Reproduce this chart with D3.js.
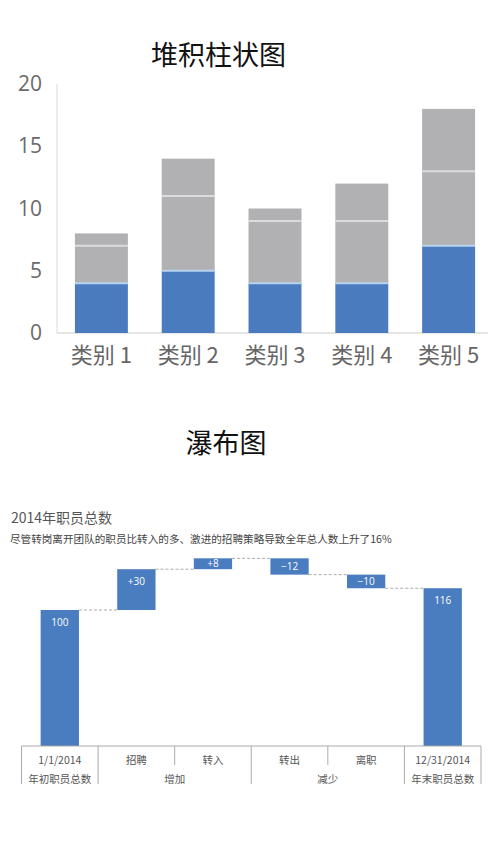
<!DOCTYPE html>
<html><head><meta charset="utf-8">
<script src="https://cdn.jsdelivr.net/npm/d3@7/dist/d3.min.js"></script>
<style>body{margin:0;background:#fff}svg{display:block}</style>
</head><body>
<svg id="c" width="489" height="868"></svg>
<script>
// ---- Stacked column data ----
const categories = ["类别 1","类别 2","类别 3","类别 4","类别 5"];
const series1 = [4,5,4,4,7];
const series2 = [3,6,5,5,6];
const series3 = [1,3,1,3,5];
const yTicks = [0,5,10,15,20];

// ---- Waterfall data ----
const wfLabels = ["1/1/2014","招聘","转入","转出","离职","12/31/2014"];
const wfValues = [100,30,8,-12,-10,116];
const wfTypes = ["total","delta","delta","delta","delta","total"];
const wfGroups = [["年初职员总数",0,1],["增加",1,3],["减少",3,5],["年末职员总数",5,6]];

const svg = d3.select("#c");
const CJK = "'Noto Sans CJK SC','Noto Sans',sans-serif";
const blue = "#4a7bbf";
const gray = "#b1b0b3";

// ===== Chart 1 =====
svg.append("text").attr("x",218.5).attr("y",65).attr("text-anchor","middle")
  .attr("font-family",CJK).attr("font-size",27).attr("fill","#111").text("堆积柱状图");

const x1 = d3.scaleBand().domain(categories).range([58,492]).paddingInner(0.39).paddingOuter(0.195);
const y1 = d3.scaleLinear().domain([0,20]).range([333,84]);
const g1 = svg.append("g");
g1.append("line").attr("x1",57).attr("x2",57).attr("y1",y1(20)).attr("y2",y1(0)).attr("stroke","#e0e0e0").attr("stroke-width",1.2);
g1.append("line").attr("x1",57).attr("x2",488).attr("y1",y1(0)).attr("y2",y1(0)).attr("stroke","#dcdcdc").attr("stroke-width",1.5);
g1.selectAll(".yt").data(yTicks).join("text").attr("x",42).attr("y",d=>y1(d)+7).attr("text-anchor","end")
  .attr("font-family","'Open Sans','Noto Sans',sans-serif").attr("font-size",21).attr("fill","#6a6a6a").text(d=>d);

const stackData = categories.map((c,i)=>({c, a:series1[i], b:series2[i], d:series3[i]}));
const stacked = d3.stack().keys(["a","b","d"])(stackData);
const colors = [blue, gray, gray];
const sepColors = ["#b9d3ee","#dcdcde","#dcdcde"];
stacked.forEach((layer,li)=>{
  g1.selectAll(".s"+li).data(layer).join("rect")
    .attr("x",d=>x1(d.data.c)).attr("width",x1.bandwidth())
    .attr("y",d=>y1(d[1])).attr("height",d=>y1(d[0])-y1(d[1])).attr("fill",colors[li]);
});
stacked.slice(0,2).forEach((layer,li)=>{
  g1.selectAll(".l"+li).data(layer).join("line")
    .attr("x1",d=>x1(d.data.c)).attr("x2",d=>x1(d.data.c)+x1.bandwidth())
    .attr("y1",d=>y1(d[1])).attr("y2",d=>y1(d[1])).attr("stroke",sepColors[li]).attr("stroke-width",2);
});
g1.selectAll(".xl").data(categories).join("text").attr("x",d=>x1(d)+x1.bandwidth()/2).attr("y",363)
  .attr("text-anchor","middle").attr("font-family",CJK).attr("font-size",22).attr("fill","#666").text(d=>d);

// ===== Chart 2 =====
svg.append("text").attr("x",226).attr("y",453).attr("text-anchor","middle")
  .attr("font-family",CJK).attr("font-size",27).attr("fill","#111").text("瀑布图");

svg.append("text").attr("x",11).attr("y",523).attr("font-family",CJK).attr("font-size",14).attr("fill","#555").text("2014年职员总数");
svg.append("text").attr("x",10).attr("y",543).attr("font-family",CJK).attr("font-size",10.6).attr("fill","#444")
  .text("尽管转岗离开团队的职员比转入的多、激进的招聘策略导致全年总人数上升了16%");

const x2 = d3.scaleBand().domain(wfLabels).range([21.5,481]).paddingInner(0.5).paddingOuter(0.25);
const y2 = d3.scaleLinear().domain([0,100]).range([746,610]);
let run = 0;
const wf = wfLabels.map((l,i)=>{
  let lo,hi;
  if(wfTypes[i]==="total"){ lo=0; hi=wfValues[i]; run=wfValues[i]; }
  else { const s=run; run+=wfValues[i]; lo=Math.min(s,run); hi=Math.max(s,run); }
  return {l, v:wfValues[i], t:wfTypes[i], lo, hi, end:run};
});
const g2 = svg.append("g");
// connectors
g2.selectAll(".cn").data(wf.slice(0,-1)).join("line")
  .attr("x1",d=>x2(d.l)+x2.bandwidth()).attr("x2",(d,i)=>x2(wf[i+1].l))
  .attr("y1",d=>y2(d.end)).attr("y2",d=>y2(d.end))
  .attr("stroke","#aaa").attr("stroke-width",1).attr("stroke-dasharray","3,2");
g2.selectAll(".wb").data(wf).join("rect")
  .attr("x",d=>x2(d.l)).attr("width",x2.bandwidth())
  .attr("y",d=>y2(d.hi)).attr("height",d=>y2(d.lo)-y2(d.hi)).attr("fill","#4a7cc0");
g2.selectAll(".wv").data(wf).join("text")
  .attr("x",d=>x2(d.l)+x2.bandwidth()/2)
  .attr("y",d=>{const h=y2(d.lo)-y2(d.hi); return (h>20? y2(d.hi)+12 : y2(d.hi)+h/2)+3.5;})
  .attr("text-anchor","middle").attr("font-family","'Open Sans','Noto Sans',sans-serif").attr("font-size",10)
  .attr("fill","#fff").text(d=>d.t==="total"? d.v : (d.v>0? "+"+d.v : "−"+Math.abs(d.v)));

// axis table
const step = x2.step();
const left = 21.5;
const axY = 746;
g2.append("line").attr("x1",left).attr("x2",481).attr("y1",axY).attr("y2",axY).attr("stroke","#aaa").attr("stroke-width",1);
const bounds = d3.range(wfLabels.length+1).map(i=>left+i*step);
const groupBounds = new Set(wfGroups.flatMap(g=>[g[1],g[2]]));
g2.selectAll(".vb").data(bounds).join("line")
  .attr("x1",d=>d).attr("x2",d=>d).attr("y1",axY)
  .attr("y2",(d,i)=>groupBounds.has(i)?784:765).attr("stroke","#aaa").attr("stroke-width",1);
g2.selectAll(".al").data(wfLabels).join("text").attr("x",d=>x2(d)+x2.bandwidth()/2).attr("y",764)
  .attr("text-anchor","middle").attr("font-family",CJK).attr("font-size",10.5).attr("fill","#555").text(d=>d);
g2.selectAll(".gl").data(wfGroups).join("text").attr("x",d=>left+(d[1]+d[2])/2*step).attr("y",783)
  .attr("text-anchor","middle").attr("font-family",CJK).attr("font-size",10.5).attr("fill","#555").text(d=>d[0]);
</script>
</body></html>
